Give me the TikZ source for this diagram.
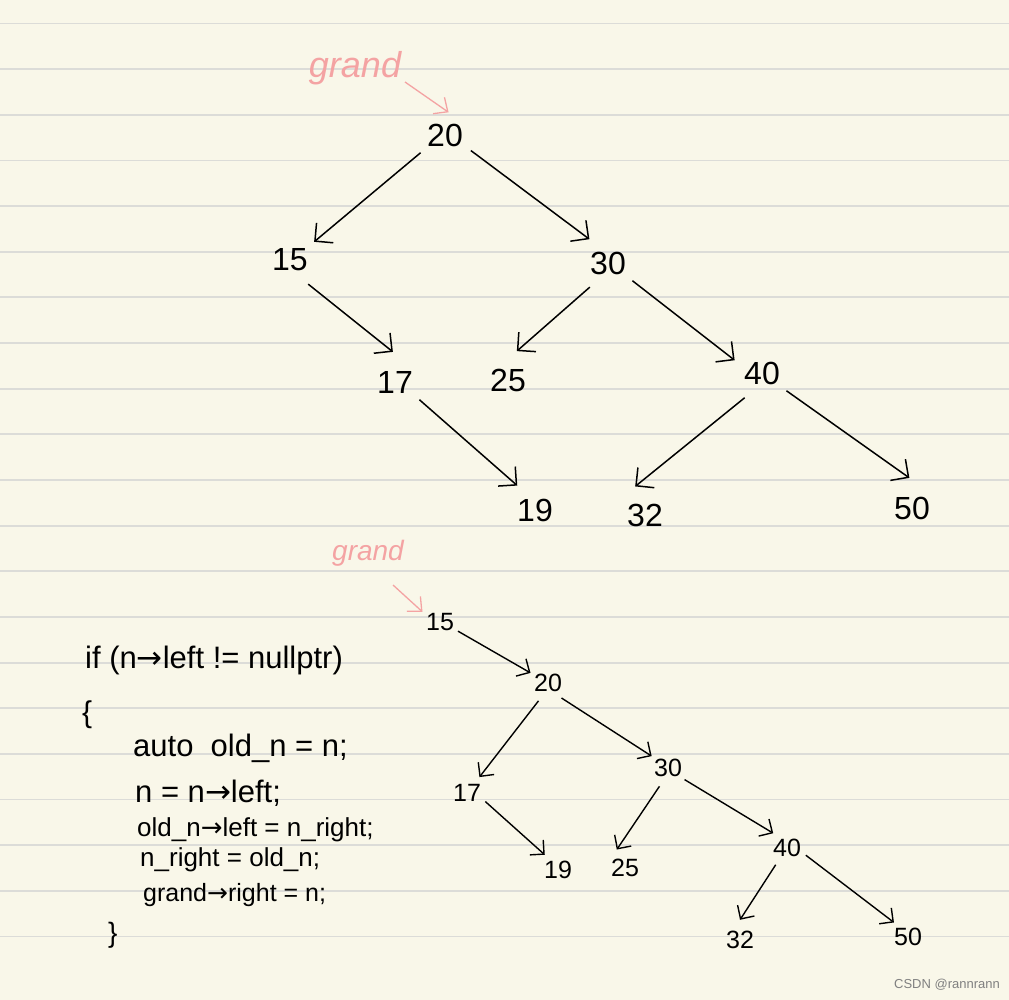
\documentclass[tikz,border=0pt]{standalone}
\usepackage{fontspec}
\setmainfont{Liberation Sans}
\newfontfamily\arrowfont{DejaVu Sans}
\usetikzlibrary{arrows.meta}
\definecolor{paper}{HTML}{F9F7E9}
\definecolor{rule}{HTML}{DCDCD8}
\definecolor{pinkpen}{HTML}{F4A3A3}
\newcommand{\ptr}{{\arrowfont\char"2192}}

\begin{document}
\begin{tikzpicture}
[x=1pt,y=-1pt,
 bignum/.style={circle,inner sep=0pt,minimum size=60pt,font=\fontsize{32}{32}\selectfont},
 smallnum/.style={circle,inner sep=0pt,minimum size=40pt,font=\fontsize{25}{25}\selectfont},
 edge/.style={line width=1.5pt,-{Straight Barb[length=13pt,width=26pt]}},
 thinedge/.style={line width=1.4pt,-{Straight Barb[length=10pt,width=20pt]}},
 pinkedge/.style={pinkpen,line width=1.3pt,-{Straight Barb[length=11pt,width=20pt]}},
 grandlabel/.style={pinkpen,font=\itshape},
 codeline/.style={anchor=west,inner sep=0pt}]

\useasboundingbox (0,0) rectangle (1009,1000);
\fill[paper] (0,0) rectangle (1009,1000);
\foreach \k in {0,...,20}
  \draw[rule,line width=1.8pt] (0,23.5+45.65*\k) -- (1009,23.5+45.65*\k);

% first tree
\node (g1) at (355,68) [grandlabel,font=\itshape\fontsize{36}{36}\selectfont] {grand};
\coordinate (g1tip) at (405,82);
\node (t20) at (445,135) [bignum] {20};
\node (t15) at (290,260) [bignum] {15};
\node (t30) at (608,263) [bignum] {30};
\node (t17) at (395,382) [bignum] {17};
\node (t25) at (508,380) [bignum] {25};
\node (t40) at (762,373) [bignum] {40};
\node (t19) at (535,510) [bignum] {19};
\node (t32) at (645,515) [bignum] {32};
\node (t50) at (912,508) [bignum] {50};

\draw[pinkedge,shorten >=-12pt] (g1tip) -- (t20.102);
\draw[edge] (t20.216) -- (t15.37);
\draw[edge] (t20.-31) -- (t30.128);
\draw[edge] (t15.-53) -- (t17.94);
\draw[edge] (t30.233) -- (t25.73);
\draw[edge] (t30.-36) -- (t40.155);
\draw[edge] (t17.-36) -- (t19.126);
\draw[edge] (t40.235) -- (t32.109);
\draw[edge] (t40.-36) -- (t50.95);

% second tree
\node (g2) at (368,553) [grandlabel,font=\itshape\fontsize{28}{28}\selectfont] {grand};
\coordinate (g2tip) at (393,585);
\node (b15) at (440,622) [smallnum] {15};
\node (b20) at (548,683) [smallnum] {20};
\node (b17) at (467,793) [smallnum] {17};
\node (b30) at (668,768) [smallnum] {30};
\node (b19) at (558,870) [smallnum] {19};
\node (b25) at (625,868) [smallnum] {25};
\node (b40) at (787,848) [smallnum] {40};
\node (b32) at (740,940) [smallnum] {32};
\node (b50) at (908,937) [smallnum] {50};

\draw[pinkedge] (g2tip) -- (b15.150);
\draw[thinedge] (b15.-27) -- (b20.150);
\draw[thinedge] (b20.242) -- (b17.52);
\draw[thinedge] (b20.-48) -- (b30.144);
\draw[thinedge] (b17.-25) -- (b19.131);
\draw[thinedge] (b30.245) -- (b25.114);
\draw[thinedge] (b30.-35) -- (b40.133);
\draw[thinedge] (b40.236) -- (b32.90);
\draw[thinedge] (b40.-21) -- (b50.134);

% rotation code
\node (c1) at (85,660) [codeline,font=\fontsize{31}{31}\selectfont] {if (n\ptr left != nullptr)};
\node (c2) at (82,715) [codeline,font=\fontsize{30}{30}\selectfont] {\{};
\node (c3) at (133,748) [codeline,font=\fontsize{31}{31}\selectfont] {auto\ \ old\_n = n;};
\node (c4) at (135,793) [codeline,font=\fontsize{31}{31}\selectfont] {n = n\ptr left;};
\node (c5) at (137,830) [codeline,font=\fontsize{26}{26}\selectfont] {old\_n\ptr left = n\_right;};
\node (c6) at (140,860) [codeline,font=\fontsize{26}{26}\selectfont] {n\_right = old\_n;};
\node (c7) at (143,895) [codeline,font=\fontsize{25}{25}\selectfont] {grand\ptr right = n;};
\node (c8) at (108,935) [codeline,font=\fontsize{28}{28}\selectfont] {\}};

\node (mark) at (1000,985) [anchor=east,text=gray,inner sep=0pt,font=\fontsize{13}{13}\selectfont] {CSDN @rannrann};
\end{tikzpicture}
\end{document}
